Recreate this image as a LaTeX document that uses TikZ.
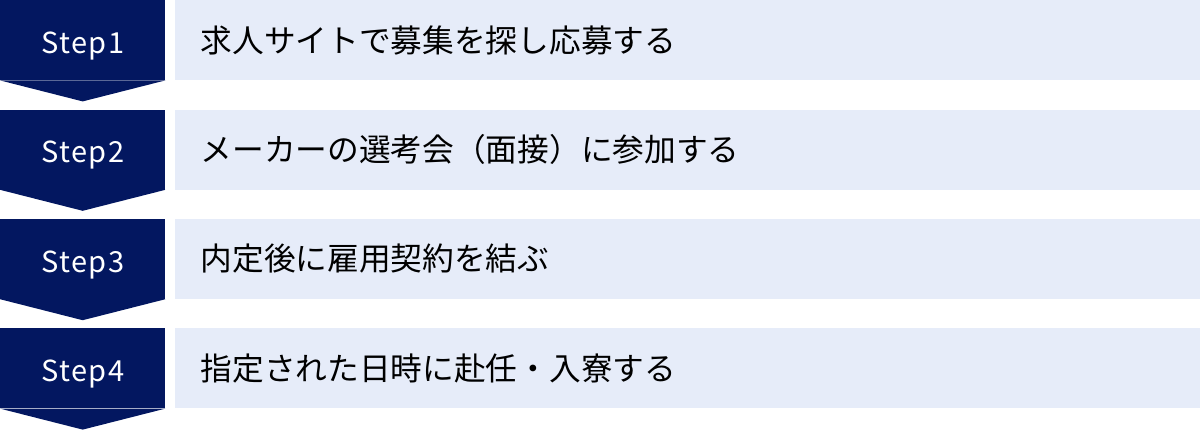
\documentclass[tikz,border=0pt]{standalone}
\usepackage{fontspec}
\setmainfont{Noto Sans CJK JP}
\newfontfamily\stepfont[LetterSpace=5]{Noto Sans CJK JP}
\usepackage{tikz}
\usetikzlibrary{calc}
\usetikzlibrary{positioning}
\definecolor{stepnavy}{RGB}{3,23,96}
\definecolor{barblue}{RGB}{230,236,249}

\begin{document}
\begin{tikzpicture}[
    stepbox/.style={fill=stepnavy, text=white, minimum width=165pt, minimum height=80pt, inner sep=0pt, text height=26pt, text depth=0pt, font=\stepfont\fontsize{29}{34}\selectfont},
    barbox/.style={fill=barblue, text=black, minimum width=1026pt, minimum height=80pt, inner xsep=26pt, inner ysep=0pt, text width=974pt, align=left, font=\fontsize{31.7}{36}\selectfont}
]
    \useasboundingbox (0,0) rectangle (1200pt,-429pt);

    \node[stepbox, anchor=north west] (step1) at (0,0) {Step1};
    \node[stepbox, below=29pt of step1] (step2) {Step2};
    \node[stepbox, below=29pt of step2] (step3) {Step3};
    \node[stepbox, below=29pt of step3] (step4) {Step4};

    % arrow points under each step
    \foreach \s in {step1,step2,step3,step4}
        \fill[stepnavy] (\s.south west) -- ($(\s.south)+(0,-21pt)$) -- (\s.south east) -- cycle;

    \node[barbox, right=9pt of step1] (bar1) {求人サイトで募集を探し応募する};
    \node[barbox, right=9pt of step2] (bar2) {メーカーの選考会（面接）に参加する};
    \node[barbox, right=9pt of step3] (bar3) {内定後に雇用契約を結ぶ};
    \node[barbox, right=9pt of step4] (bar4) {指定された日時に赴任・入寮する};

\end{tikzpicture}
\end{document}
